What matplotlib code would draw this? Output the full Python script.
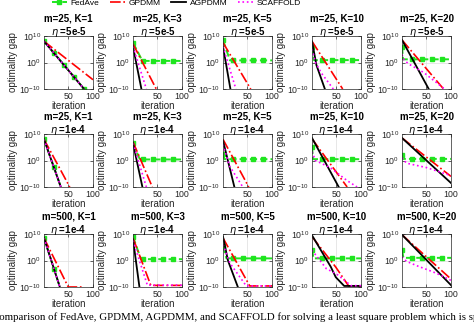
import numpy as np
import matplotlib.pyplot as plt

# ---------- panel layout labels ----------
m_vals = [25, 25, 500]
eta_labels = ['5e-5', '1e-4', '1e-4']
K_vals = [1, 3, 5, 10, 20]

# ---------- curves: iteration breakpoints and log10(optimality gap) ----------
# order: row 1 (K=1..20), row 2, row 3
fedave_it = [
    [1, 21, 41, 61, 82], [1, 20, 21, 41, 61, 81, 100], [1, 15, 21, 41, 61, 81, 100],
    [1, 5, 21, 41, 61, 81, 100], [1, 3, 21, 41, 61, 81, 100],
    [1, 21, 35], [1, 15, 21, 41, 61, 81, 100], [1, 4, 21, 41, 61, 81, 100],
    [1, 3, 21, 41, 61, 81, 100], [1, 3, 21, 41, 61, 81, 100],
    [1, 21, 33], [1, 17, 21, 41, 61, 81, 100], [1, 8, 21, 41, 61, 81, 100],
    [1, 4, 21, 41, 61, 81, 100], [1, 4, 21, 41, 61, 81, 100],
]
fedave_lg = [
    [8, 3.6, -0.8, -5.3, -10], [7.5, 0.6, 0.6, 0.6, 0.6, 0.6, 0.6], [8.5, 0.8, 0.8, 0.8, 0.8, 0.8, 0.8],
    [6, 0.9, 0.9, 0.9, 0.9, 0.9, 0.9], [6, 1.2, 1.2, 1.2, 1.2, 1.2, 1.2],
    [8, -2.6, -10], [6.5, 0.4, 0.4, 0.4, 0.4, 0.4, 0.4], [2.5, 0.5, 0.5, 0.5, 0.5, 0.5, 0.5],
    [5.2, 0.5, 0.5, 0.5, 0.5, 0.5, 0.5], [2.2, 0.6, 0.6, 0.6, 0.6, 0.6, 0.6],
    [8.5, -3.1, -10], [9, 0.5, 0.5, 0.5, 0.5, 0.5, 0.5], [5.4, 0.8, 0.8, 0.8, 0.8, 0.8, 0.8],
    [4.1, 0.8, 0.8, 0.8, 0.8, 0.8, 0.8], [3.9, 1.0, 1.0, 1.0, 1.0, 1.0, 1.0],
]
fedave_marks = [1, 21, 41, 61, 81, 82]

gpdmm_it = [
    [1, 100], [1, 48], [1, 57], [1, 63], [1, 85],
    [1, 53], [1, 40], [1, 53], [1, 72], [1, 100],
    [1, 50, 80], [1, 37, 100], [1, 55, 100], [1, 49, 75, 100], [1, 100],
]
gpdmm_lg = [
    [8, -6.5], [7, -10], [7.5, -10], [8, -10], [8.5, -10],
    [8, -10], [7, -10], [8, -10], [8.2, -10], [8.5, -6],
    [8.5, -10, -10], [8.5, -9.4, -9.4], [8.5, -9.6, -9.6], [9, -2.5, -9.6, -9.6], [9.7, -7],
]

agpdmm_it = [
    [1, 82], [1, 18], [1, 16], [1, 10, 27], [1, 55],
    [1, 35], [1, 20], [1, 24], [1, 55], [1, 100],
    [1, 33], [1, 14], [1, 11, 31], [1, 39, 49, 66, 100], [1, 100],
]
agpdmm_lg = [
    [8, -10], [6, -10], [6, -10], [8, -1, -10], [8.5, -10],
    [8, -10], [6.5, -10], [7.5, -10], [8.5, -10], [8.5, -8.5],
    [8.5, -10], [8, -10], [9, 0, -10], [9.5, -2.4, -6.3, -9.6, -9.6], [9.7, -9.3],
]

scaffold_it = [
    [1, 82], [1, 28], [1, 27], [1, 8, 20, 44], [1, 5, 14, 45, 87],
    [1, 35], [1, 28], [1, 14, 41], [1, 8, 38, 72, 92], [1, 10, 51, 100],
    [1, 33], [1, 30, 100], [1, 15, 48, 100], [1, 30, 50, 80, 100], [1, 10, 30, 61, 81, 100],
]
scaffold_lg = [
    [8, -10], [6, -10], [6, -10], [5, 0, -4, -10], [3, 1, -0.5, -3.8, -10],
    [8, -10], [6.5, -10], [6, -2, -10], [3.3, 0, -2.7, -7.6, -10], [1.0, -1.0, -2.7, -5.7],
    [8.5, -10], [7.5, -9.3, -9.3], [6, -1, -9.6, -9.6], [3.9, -3.1, -5.0, -9.5, -9.5],
    [1.4, -0.3, -1.9, -4.1, -5.7, -7.5],
]

# ---------- figure ----------
W, H = 474, 322
plt.rcParams['font.family'] = ['Liberation Sans', 'DejaVu Sans']
plt.rcParams['mathtext.fontset'] = 'custom'
plt.rcParams['mathtext.rm'] = 'Liberation Sans'
fig = plt.figure(figsize=(W / 100, H / 100), dpi=100)

col_left = [44, 133, 223, 312, 402]
row_top = [36, 134, 234]
ax_w, ax_h = 49, 53

green = '#1fe51f'
handles = None
for r in range(3):
    for c in range(5):
        i = r * 5 + c
        x0 = col_left[c] / W
        y0 = 1 - (row_top[r] + ax_h) / H
        ax = fig.add_axes([x0, y0, ax_w / W, ax_h / H])

        f_it = fedave_it[i]
        marks = [j for j, it in enumerate(f_it) if it in fedave_marks]
        l1, = ax.plot(f_it, 10.0 ** np.array(fedave_lg[i]), '--', color=green, lw=1.4,
                      marker='s', markersize=3.5, markevery=marks, label='FedAve')
        l2, = ax.plot(gpdmm_it[i], 10.0 ** np.array(gpdmm_lg[i]), '-.', color='red', lw=1.2,
                      label='GPDMM')
        l3, = ax.plot(agpdmm_it[i], 10.0 ** np.array(agpdmm_lg[i]), '-', color='black', lw=1.3,
                      label='AGPDMM')
        l4, = ax.plot(scaffold_it[i], 10.0 ** np.array(scaffold_lg[i]), ':', color='magenta', lw=1.2,
                      label='SCAFFOLD')
        if handles is None:
            handles = [l1, l2, l3, l4]

        ax.set_yscale('log')
        ax.set_ylim(1e-10, 1e10)
        ax.set_xlim(1, 100)
        ax.set_xticks([50, 100])
        ax.set_yticks([1e-10, 1e0, 1e10])
        ax.minorticks_off()
        ax.grid(True, color='#dddddd', lw=0.5)
        ax.tick_params(direction='in', labelsize=6.3, length=2, width=0.5, pad=2,
                       top=True, right=True, colors='#262626')
        for s in ax.spines.values():
            s.set_linewidth(0.5)
            s.set_color('#262626')
        ax.set_xlabel('iteration', fontsize=7, labelpad=0, color='#262626')
        ax.set_ylabel('optimality gap', fontsize=7, labelpad=1, color='#262626')
        ax.set_title(f'm={m_vals[r]}, K={K_vals[c]}\n$\\eta$ ={eta_labels[r]}',
                     fontsize=7, fontweight='bold', pad=1, linespacing=1.1)

fig.legend(handles=handles, loc='center', bbox_to_anchor=(0.372, 1 - 3 / H), ncol=4,
           frameon=False, fontsize=6, handlelength=1.8, handletextpad=0.4,
           columnspacing=1.3, borderpad=0)

fig.text(-8 / W, 1 - 317 / H,
         'Comparison of FedAve, GPDMM, AGPDMM, and SCAFFOLD for solving a least square problem which is specified',
         fontsize=7.8, family='Liberation Serif', va='center', ha='left')

fig.savefig('out.png', dpi=100)
